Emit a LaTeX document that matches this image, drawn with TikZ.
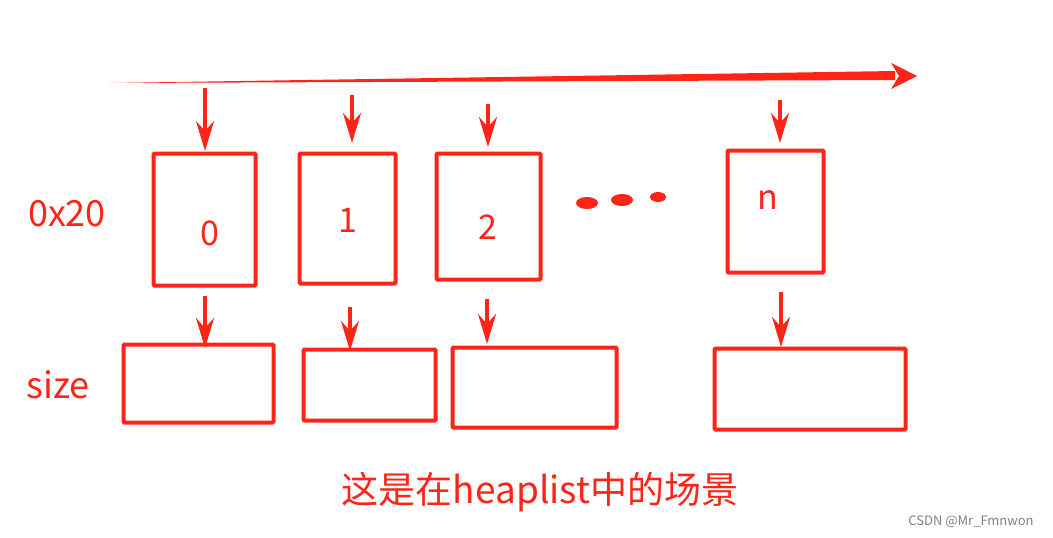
\documentclass[tikz,border=0pt]{standalone}
\usepackage{fontspec}
\setmainfont{Noto Sans CJK SC}
\usetikzlibrary{arrows.meta}
\definecolor{rr}{HTML}{FF2418}
\begin{document}
\begin{tikzpicture}[x=1pt,y=-1pt,
  box/.style={draw=rr,line width=4pt,rounded corners=1pt},
  arr/.style={draw=rr,line width=3.5pt,-{Stealth[length=30pt,width=18pt,inset=10pt]}},
  lab/.style={text=rr,font=\fontsize{34}{36}\selectfont,inner sep=0pt}]
\useasboundingbox (0,0) rectangle (1053,538);
% top arrow
\fill[rr] (110,83) -- (895,71) -- (895,80) -- cycle;
\fill[rr] (891,63) -- (917,76) -- (891,89) -- (899,76) -- cycle;
% top boxes
\node[box,minimum width=102pt,minimum height=132pt] (t0) at (204.5,219.5) {};
\node[box,minimum width=96pt,minimum height=130pt] (t1) at (347.5,218.5) {};
\node[box,minimum width=104pt,minimum height=126pt] (t2) at (488.5,216.5) {};
\node[box,minimum width=96pt,minimum height=122pt] (tn) at (775.5,211.5) {};
\node[lab] (l0) at (210,233) {0};
\node[lab] (l1) at (348,220) {1};
\node[lab] (l2) at (488,227) {2};
\node[lab] (ln) at (768,200) {n};
% bottom boxes
\node[box,minimum width=150pt,minimum height=78pt] (b0) at (198.5,383.5) {};
\node[box,minimum width=132pt,minimum height=71pt] (b1) at (369.5,385) {};
\node[box,minimum width=164pt,minimum height=80pt] (b2) at (534.5,387.5) {};
\node[box,minimum width=191pt,minimum height=81pt] (bn) at (810,389) {};
% down arrows
\coordinate (s0) at (205,88); \coordinate (s1) at (352,95);
\coordinate (s2) at (488,104); \coordinate (sn) at (780,100);
\draw[arr] (s0) -- (205,151);
\draw[arr] (s1) -- (352,143);
\draw[arr] (s2) -- (488,147);
\draw[arr] (sn) -- (780,143);
\draw[arr] (205,296) -- (205,348);
\draw[arr] (350,307) -- (350,351);
\draw[arr] (487,299) -- (487,344);
\draw[arr] (781,292) -- (781,347);
% dots
\fill[rr] (587,203) ellipse (11pt and 6pt);
\fill[rr] (622,200) ellipse (11pt and 6pt);
\fill[rr] (658,197) ellipse (8pt and 5pt);
% labels
\node[lab,font=\fontsize{36}{38}\selectfont] (hx) at (67,214) {0x20};
\node[lab,font=\fontsize{36}{38}\selectfont] (sz) at (58,385) {size};
\node[lab,font=\fontsize{37}{40}\selectfont] (cap) at (540,492) {这是在heaplist中的场景};
\node[text=gray,font=\fontsize{13}{15}\selectfont,inner sep=0pt] (wm) at (971,522) {CSDN @Mr\_Fmnwon};
\end{tikzpicture}
\end{document}
